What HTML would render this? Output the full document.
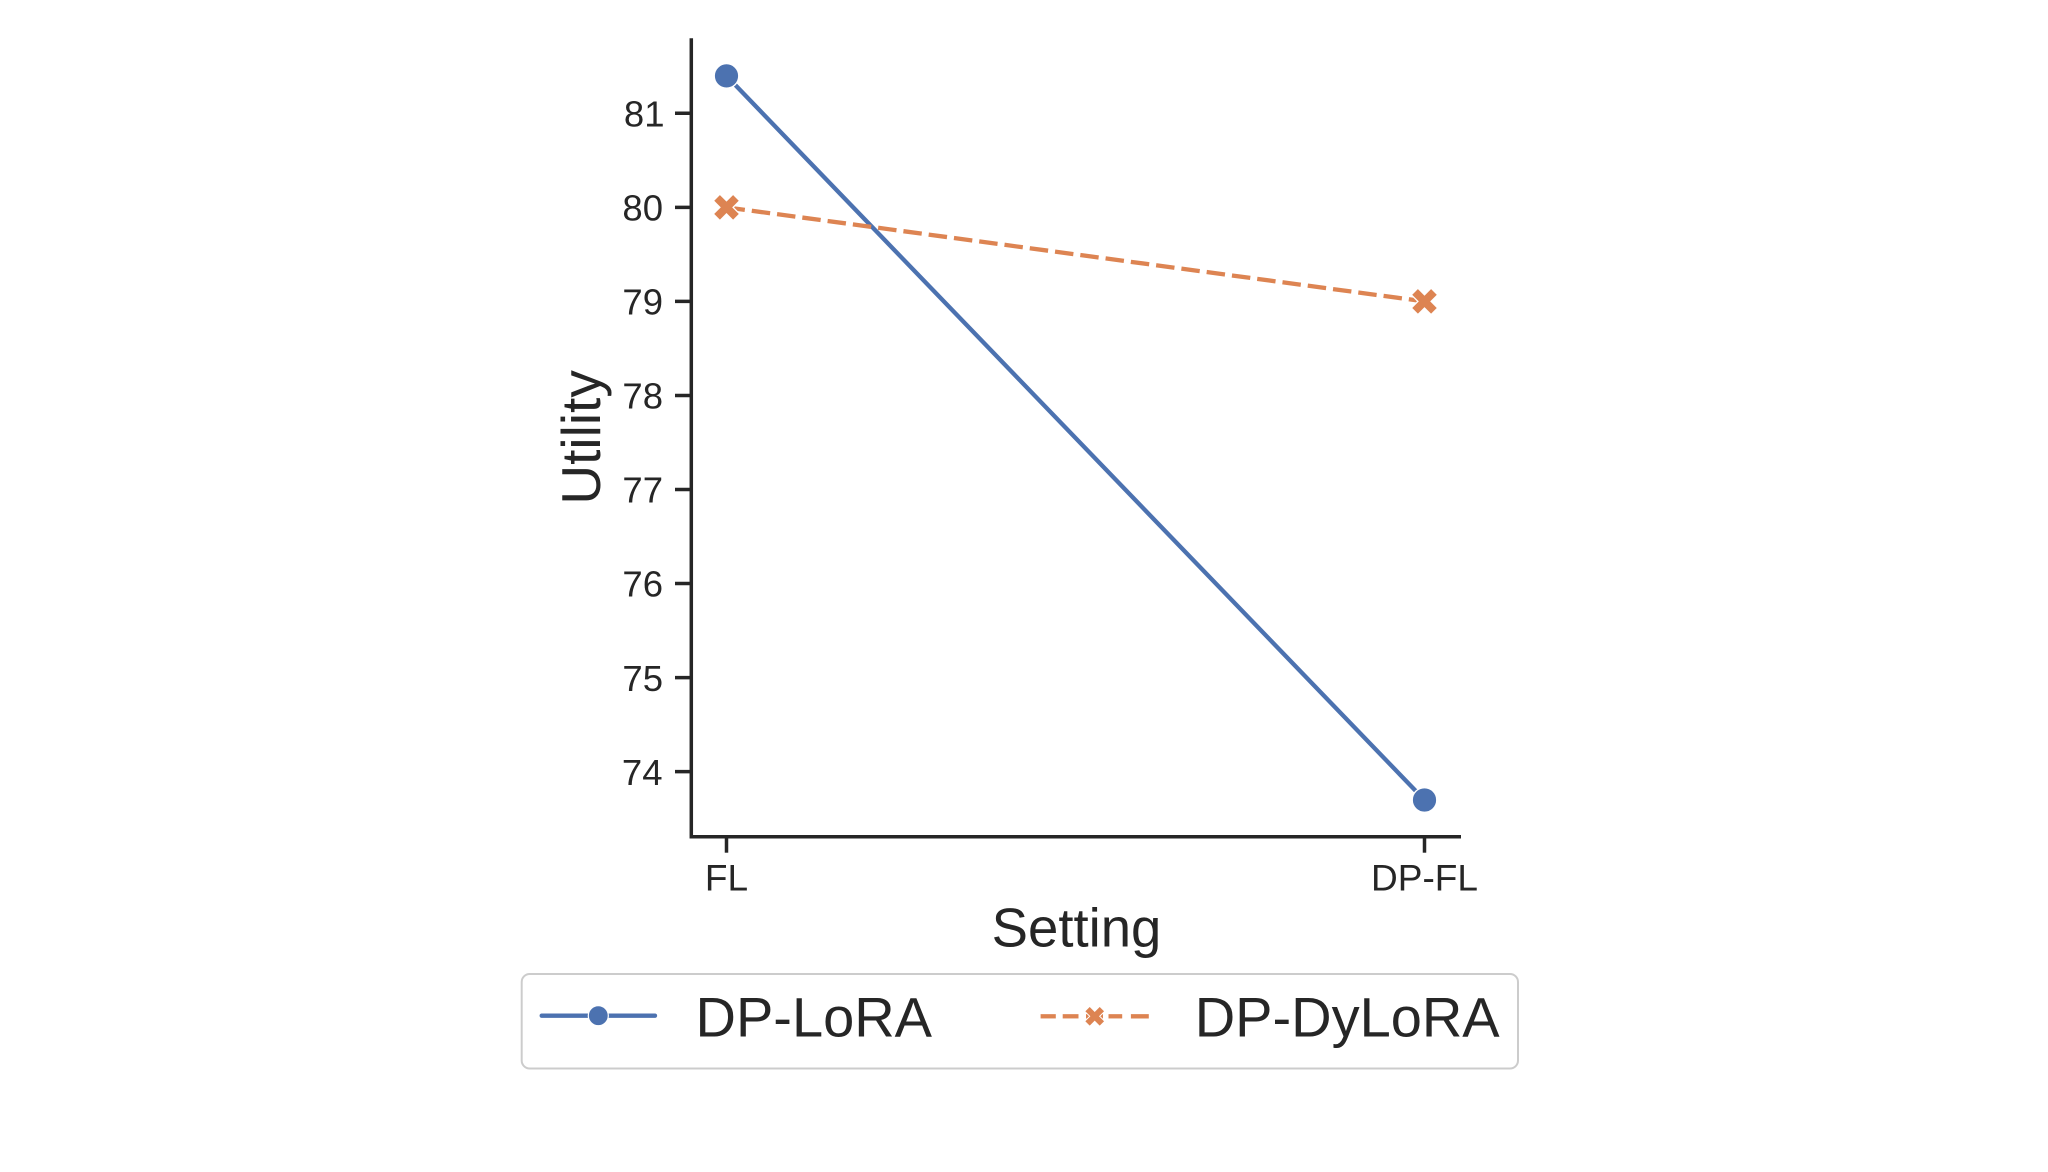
<!DOCTYPE html>
<html>
<head>
<meta charset="utf-8">
<style>
  html, body { margin: 0; padding: 0; background: #ffffff; }
  svg { display: block; }
  text { font-family: "Liberation Sans", Arial, sans-serif; fill: #262626; }
</style>
</head>
<body>
<svg width="2048" height="1172" viewBox="0 0 2048 1172" xmlns="http://www.w3.org/2000/svg">
  <rect x="0" y="0" width="2048" height="1172" fill="#ffffff"/>

  <!-- spines -->
  <path d="M691.3 38.3 L691.3 836.7 L1461 836.7" fill="none" stroke="#262626" stroke-width="3.5" stroke-linejoin="miter" stroke-linecap="butt"/>

  <!-- y ticks -->
  <g stroke="#262626" stroke-width="3.5">
    <line x1="675" y1="113.3" x2="691.3" y2="113.3"/>
    <line x1="675" y1="207.35" x2="691.3" y2="207.35"/>
    <line x1="675" y1="301.4" x2="691.3" y2="301.4"/>
    <line x1="675" y1="395.45" x2="691.3" y2="395.45"/>
    <line x1="675" y1="489.5" x2="691.3" y2="489.5"/>
    <line x1="675" y1="583.55" x2="691.3" y2="583.55"/>
    <line x1="675" y1="677.6" x2="691.3" y2="677.6"/>
    <line x1="675" y1="771.65" x2="691.3" y2="771.65"/>
    <!-- x ticks -->
    <line x1="726.5" y1="836.7" x2="726.5" y2="852.7"/>
    <line x1="1424.5" y1="836.7" x2="1424.5" y2="852.7"/>
  </g>

  <!-- y tick labels -->
  <g font-size="36.5" text-anchor="end">
    <text x="664.5" y="126.5">81</text>
    <text x="663" y="220.5">80</text>
    <text x="663" y="314.6">79</text>
    <text x="663" y="408.6">78</text>
    <text x="663" y="502.7">77</text>
    <text x="663" y="596.7">76</text>
    <text x="663" y="690.8">75</text>
    <text x="662.5" y="784.8">74</text>
  </g>

  <!-- x tick labels -->
  <g font-size="37" text-anchor="middle">
    <text x="726.5" y="890.7">FL</text>
    <text x="1424.5" y="890.7">DP-FL</text>
  </g>

  <!-- axis labels -->
  <text x="1076.5" y="946.7" font-size="54.5" text-anchor="middle">Setting</text>
  <text x="0" y="0" font-size="55" text-anchor="middle" transform="translate(600,437.4) rotate(-90)">Utility</text>

  <!-- DP-LoRA series -->
  <line x1="726.5" y1="75.9" x2="1424.5" y2="800" stroke="#4c72b0" stroke-width="4.3" stroke-linecap="butt"/>
  <circle cx="726.5" cy="75.9" r="12.3" fill="#4c72b0" stroke="#ffffff" stroke-width="1.4"/>
  <circle cx="1424.5" cy="800" r="12.3" fill="#4c72b0" stroke="#ffffff" stroke-width="1.4"/>

  <!-- DP-DyLoRA series -->
  <line x1="726.5" y1="207.35" x2="1424.5" y2="301.4" stroke="#dd8452" stroke-width="4.3" stroke-dasharray="18.5 7" stroke-linecap="butt"/>
  <g fill="#dd8452" stroke="#ffffff" stroke-width="0.2">
    <polygon transform="translate(726.5,207.35) scale(6.6)" points="-1,-2 0,-1 1,-2 2,-1 1,0 2,1 1,2 0,1 -1,2 -2,1 -1,0 -2,-1"/>
    <polygon transform="translate(1424.5,301.4) scale(6.6)" points="-1,-2 0,-1 1,-2 2,-1 1,0 2,1 1,2 0,1 -1,2 -2,1 -1,0 -2,-1"/>
  </g>

  <!-- legend -->
  <rect x="521.7" y="974" width="996.3" height="94.5" rx="8" ry="8" fill="#ffffff" stroke="#cccccc" stroke-width="2"/>
  <line x1="541.7" y1="1015.7" x2="655" y2="1015.7" stroke="#4c72b0" stroke-width="4.3" stroke-linecap="round"/>
  <circle cx="598.3" cy="1015.7" r="10" fill="#4c72b0" stroke="#ffffff" stroke-width="1.2"/>
  <text x="695.5" y="1036.7" font-size="56">DP-LoRA</text>

  <g stroke="#dd8452" stroke-width="4.3">
    <line x1="1040.6" y1="1016.3" x2="1055.8" y2="1016.3"/>
    <line x1="1062.7" y1="1016.3" x2="1078.5" y2="1016.3"/>
    <line x1="1086" y1="1016.3" x2="1103" y2="1016.3"/>
    <line x1="1108.5" y1="1016.3" x2="1122.2" y2="1016.3"/>
    <line x1="1130.9" y1="1016.3" x2="1148.8" y2="1016.3"/>
  </g>
  <polygon transform="translate(1094.7,1016.3) scale(5)" points="-1,-2 0,-1 1,-2 2,-1 1,0 2,1 1,2 0,1 -1,2 -2,1 -1,0 -2,-1" fill="#dd8452" stroke="#ffffff" stroke-width="0.2"/>
  <text x="1194.7" y="1036.7" font-size="56">DP-DyLoRA</text>
</svg>
</body>
</html>
